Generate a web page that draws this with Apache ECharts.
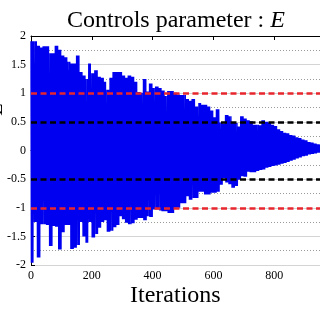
<!DOCTYPE html>
<html>
<head>
<meta charset="utf-8">
<script src="https://cdn.jsdelivr.net/npm/echarts@6/dist/echarts.min.js"></script>
<style>
  html, body { margin: 0; padding: 0; background: #fff; }
  #chart { width: 320px; height: 320px; }
</style>
</head>
<body>
<div id="chart"></div>
<script>
// envelope of E, read every 10 iterations (0..990)
const step = 10;
const upper = [
  1.91, 1.91, 1.83, 1.80, 1.82, 1.82, 1.70, 1.70, 1.83, 1.76,
  1.66, 1.63, 1.55, 1.52, 1.52, 1.66, 1.37, 1.31, 1.25, 1.52,
  1.35, 1.40, 1.29, 1.27, 1.20, 1.06, 1.27, 1.37, 1.37, 1.37,
  1.31, 1.27, 1.31, 1.29, 1.20, 1.02, 1.01, 1.25, 1.03, 1.17,
  1.09, 1.12, 1.09, 1.05, 0.95, 1.04, 1.04, 1.01, 0.98, 0.97,
  0.97, 0.90, 0.87, 0.90, 0.77, 0.83, 0.80, 0.80, 0.77, 0.70,
  0.58, 0.72, 0.49, 0.47, 0.62, 0.60, 0.48, 0.48, 0.42, 0.60,
  0.56, 0.53, 0.51, 0.45, 0.45, 0.44, 0.53, 0.50, 0.49, 0.45,
  0.43, 0.37, 0.34, 0.31, 0.30, 0.27, 0.26, 0.23, 0.22, 0.19,
  0.18, 0.15, 0.14, 0.12, 0.11, 0.10, 0.09, 0.08, 0.07, 0.06
];
const lower = [
  -1.96, -1.25, -1.87, -1.29, -1.29, -1.30, -1.67, -1.32, -1.33, -1.73,
  -1.43, -1.30, -1.30, -1.72, -1.70, -1.65, -1.25, -1.50, -1.61, -1.25,
  -1.52, -1.46, -1.35, -1.25, -1.22, -1.42, -1.40, -1.34, -1.30, -1.15,
  -1.20, -1.26, -1.29, -1.27, -1.21, -1.18, -1.18, -1.22, -1.15, -1.16,
  -1.03, -1.03, -1.05, -1.06, -1.06, -1.09, -1.09, -1.00, -1.00, -0.92,
  -0.92, -0.80, -0.86, -0.83, -0.83, -0.72, -0.72, -0.77, -0.77, -0.74,
  -0.74, -0.72, -0.60, -0.48, -0.56, -0.59, -0.65, -0.62, -0.51, -0.45,
  -0.46, -0.37, -0.38, -0.38, -0.36, -0.34, -0.33, -0.30, -0.29, -0.27,
  -0.26, -0.25, -0.23, -0.22, -0.20, -0.18, -0.16, -0.14, -0.12, -0.10,
  -0.09, -0.07, -0.06, -0.05, -0.04, -0.03, -0.03, -0.02, -0.02, -0.01
];
// single-sample dips / spikes [iteration, value]
const upperDips = [[12, 1.35], [60, 1.18], [123, 1.40], [183, 0.19], [198, 0.75],
  [248, 0.71], [367, 0.60], [407, 0.62], [444, 0.55], [446, 0.45], [506, 0.55],
  [550, 0.55], [622, 0.37], [655, 0.35], [675, 0.30], [746, 0.30]];
const lowerSpikes = [[8, -0.75], [42, -0.80], [154, -0.54], [189, -1.2], [212, -0.33],
  [263, -0.76], [325, -0.80], [386, -0.60], [408, -0.55], [422, -0.54], [531, -0.59]];

const redLevels = [1, -1];
const blackLevels = [0.5, -0.5];

// alternate between the upper and lower values, 8 samples per step
const sub = 8;
const dx = step / sub;
const points = [];
for (let k = 0; k < upper.length; k++) {
  for (let s = 0; s < sub; s++) {
    points.push([k * step + s * dx, s % 2 === 0 ? upper[k] : lower[k]]);
  }
}
upperDips.forEach(([it, v]) => {
  const j = 2 * Math.round(it / (2 * dx));
  if (points[j]) points[j][1] = v;
});
lowerSpikes.forEach(([it, v]) => {
  const j = 2 * Math.round((it - dx) / (2 * dx)) + 1;
  if (points[j]) points[j][1] = v;
});

const serif = 'Liberation Serif';
const chart = echarts.init(document.getElementById('chart'));

const levelLines = (levels, color) => ({
  type: 'line',
  data: [],
  silent: true,
  markLine: {
    symbol: 'none',
    silent: true,
    animation: false,
    label: { show: false },
    lineStyle: { color: color, width: 2.5, type: [6, 3.5] },
    data: levels.map(v => ({ yAxis: v }))
  },
  z: 5
});

chart.setOption({
  animation: false,
  backgroundColor: '#fff',
  title: [{
    text: '{a|Controls parameter : }{b|E}',
    left: 62,
    top: 4,
    textStyle: {
      fontWeight: 'normal',
      rich: {
        a: { fontFamily: serif, fontSize: 24, fontWeight: 'normal', color: '#000' },
        b: { fontFamily: serif, fontSize: 24, fontWeight: 'normal', fontStyle: 'italic', color: '#000' }
      }
    }
  }, {
    text: 'Iterations',
    left: 125,
    top: 279,
    textStyle: { fontFamily: serif, fontSize: 24, fontWeight: 'normal', color: '#000' }
  }],
  graphic: [{
    type: 'text',
    x: -3,
    y: 109,
    rotation: Math.PI / 2,
    style: { text: 'E', font: 'italic 20px "Liberation Serif"', fill: '#000', align: 'center', verticalAlign: 'middle' }
  }],
  grid: { left: 31, top: 36, width: 304, height: 229, containLabel: false, outerBoundsMode: 'none' },
  xAxis: [{
    type: 'value',
    min: 0, max: 1000, interval: 200,
    position: 'bottom',
    axisLine: { lineStyle: { color: '#000', width: 1 } },
    axisTick: { inside: true, length: 4, lineStyle: { color: '#000' } },
    axisLabel: { fontFamily: serif, fontSize: 12, color: '#000', margin: 5, formatter: v => String(v) },
    splitLine: { show: false }
  }, {
    type: 'value',
    min: 0, max: 1000, interval: 200,
    position: 'top',
    axisLine: { lineStyle: { color: '#000', width: 1 } },
    axisTick: { inside: true, length: 4, lineStyle: { color: '#000' } },
    axisLabel: { show: false },
    splitLine: { show: false }
  }],
  yAxis: {
    type: 'value',
    min: -2, max: 2, interval: 0.5,
    axisLine: { show: true, lineStyle: { color: '#000', width: 1 } },
    axisTick: { show: true, inside: true, length: 4, lineStyle: { color: '#000' } },
    axisLabel: { fontFamily: serif, fontSize: 12, color: '#000', margin: 5 },
    splitLine: { show: true, lineStyle: { color: '#d4d4d4', width: 1 } },
    minorTick: { show: false, splitNumber: 2 },
    minorSplitLine: { show: true, lineStyle: { color: '#9a9a9a', width: 1, type: [1, 2] } }
  },
  series: [{
    type: 'line',
    data: points,
    showSymbol: false,
    sampling: 'none',
    lineStyle: { color: '#0000f0', width: 1.4 },
    itemStyle: { color: '#0000f0' },
    z: 3
  },
  levelLines(redLevels, '#e8262e'),
  levelLines(blackLevels, '#000')]
});
</script>
</body>
</html>
